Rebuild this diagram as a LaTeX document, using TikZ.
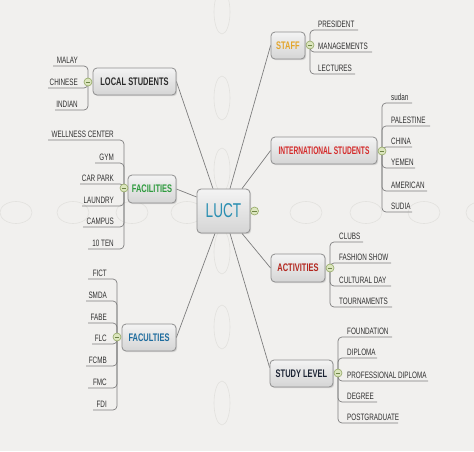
\documentclass[tikz,border=0pt]{standalone}
\usepackage{fontspec}
\newfontfamily\nar{Liberation Sans}[FakeStretch=0.68]
\newfontfamily\narx{Liberation Sans}[FakeStretch=0.6]
\usetikzlibrary{shadows,calc}
\definecolor{bg}{HTML}{F1F0EE}
\definecolor{boxtop}{HTML}{F3F3F3}
\definecolor{boxbot}{HTML}{D5D5D5}
\definecolor{boxline}{HTML}{8E8E8E}
\definecolor{linegray}{HTML}{7E7E7E}
\definecolor{leaftext}{HTML}{303030}
\definecolor{folddraw}{HTML}{93A865}
\definecolor{foldfill}{HTML}{DCE6BE}
\definecolor{foldmark}{HTML}{6E8446}
\definecolor{petalgray}{HTML}{E2E1DE}
\definecolor{cluct}{HTML}{2A8FB2}
\definecolor{cstaff}{HTML}{E3A52C}
\definecolor{cintl}{HTML}{D42A2A}
\definecolor{cfac}{HTML}{2E9B3E}
\definecolor{cact}{HTML}{B3261E}
\definecolor{cfacu}{HTML}{1E6C9E}
\definecolor{cdark}{HTML}{2B2B2B}
\definecolor{cstudy}{HTML}{1C2434}
\pgfdeclarelayer{bglayer}
\pgfsetlayers{bglayer,main}
\begin{document}
\begin{tikzpicture}[x=1pt,y=-1pt,
  topic/.style={draw=boxline, line width=0.8pt, rounded corners=4pt,
    top color=boxtop, bottom color=boxbot,
    drop shadow={opacity=0.25, shadow xshift=1.2pt, shadow yshift=-1.2pt},
    inner sep=0pt, font=\nar\bfseries\fontsize{11}{13}\selectfont},
  fold/.style={circle, draw=folddraw, fill=foldfill, line width=0.6pt,
    minimum size=8pt, inner sep=0pt,
    path picture={\draw[foldmark, line width=0.7pt]
      ([xshift=-2.2pt]path picture bounding box.center) --
      ([xshift=2.2pt]path picture bounding box.center);}},
  leaf/.style={inner sep=0pt, text=leaftext, font=\nar\fontsize{9.3}{11}\selectfont},
  leafR/.style={leaf, anchor=base west},
  leafL/.style={leaf, anchor=base east},
  branch/.style={draw=linegray, line width=0.7pt, rounded corners=4pt},
  spoke/.style={draw=linegray, line width=0.7pt},
  petal/.style={draw=petalgray, line width=0.6pt}
]
\useasboundingbox (0,0) rectangle (474,451);

% background and petals
\begin{pgfonlayer}{bglayer}
\fill[bg] (0,0) rectangle (474,451);
\foreach \cx in {16,73,132,187,306,366,424,482}
  \draw[petal] (\cx,212.5) ellipse [x radius=16, y radius=11];
\foreach \cy in {12,98,170,252,327,403}
  \draw[petal] (222,\cy) ellipse [x radius=8, y radius=22];
\end{pgfonlayer}

% central and topic nodes
\node[topic, minimum width=53pt, minimum height=44pt,
      font=\nar\fontsize{20}{22}\selectfont, text=cluct] (luct) at (223.5,211) {LUCT};
\node[topic, minimum width=83pt, minimum height=27pt, text=cdark] (local) at (134.5,81.5) {LOCAL STUDENTS};
\node[topic, minimum width=48pt, minimum height=28pt, text=cfac] (fac) at (152,189) {FACILITIES};
\node[topic, minimum width=54pt, minimum height=27pt, text=cfacu] (facu) at (149,337.5) {FACULTIES};
\node[topic, minimum width=34pt, minimum height=27pt, text=cstaff] (staff) at (288,45.5) {STAFF};
\node[topic, minimum width=106pt, minimum height=27pt, text=cintl,
      font=\narx\bfseries\fontsize{11}{13}\selectfont] (intl) at (324,150.5) {INTERNATIONAL STUDENTS};
\node[topic, minimum width=54pt, minimum height=28pt, text=cact] (act) at (298,268) {ACTIVITIES};
\node[topic, minimum width=63pt, minimum height=27pt, text=cstudy] (study) at (301.5,373.5) {STUDY LEVEL};

% fold markers
\node[fold] (fLuct) at (254.5,211) {};
\node[fold] (fLocal) at (88,82) {};
\node[fold] (fFac) at (124,188) {};
\node[fold] (fFacu) at (117,337) {};
\node[fold] (fStaff) at (310,45) {};
\node[fold] (fIntl) at (382,151) {};
\node[fold] (fAct) at (330,268) {};
\node[fold] (fStudy) at (338,373) {};

% spokes from centre
\begin{pgfonlayer}{bglayer}
\draw[spoke] ($(luct.north)+(-10.5,0)$) -- (local.east);
\draw[spoke] ($(luct.north)+(6.5,0)$) -- (staff.west);
\draw[spoke] ($(luct.north)+(18.5,0)$) -- (intl.west);
\draw[spoke] ($(luct.west)+(0,-14)$) -- (fac.east);
\draw[spoke] ($(luct.south)+(-8.5,0)$) -- (facu.east);
\draw[spoke] ($(luct.south)+(6.5,0)$) -- ($(study.west)+(0,-6)$);
\draw[spoke] ($(luct.south)+(18.5,0)$) -- (act.west);
\end{pgfonlayer}

% LOCAL STUDENTS leaves
\foreach \id/\txt/\yy/\xe in {la/MALAY/66/53, lb/CHINESE/88/48, lc/INDIAN/110/55}{
  \coordinate (u\id) at (\xe,\yy);
  \node[leafL] (t\id) at (78,\yy-2.5) {\txt};
  \begin{pgfonlayer}{bglayer}\draw[branch] (fLocal.center) |- (u\id);\end{pgfonlayer}
}
% FACILITIES leaves
\foreach \id/\txt/\yy/\xe in {fa/WELLNESS CENTER/140/48, fb/GYM/163/95, fc/CAR PARK/184/80,
    fd/LAUNDRY/206/82, fe/CAMPUS/227/83, ff/10 TEN/249/88}{
  \coordinate (u\id) at (\xe,\yy);
  \node[leafL] (t\id) at (114,\yy-2.5) {\txt};
  \begin{pgfonlayer}{bglayer}\draw[branch] (fFac.center) |- (u\id);\end{pgfonlayer}
}
% FACULTIES leaves
\foreach \id/\txt/\yy/\xe in {ga/FICT/279/88, gb/SMDA/301/86, gc/FABE/323/88, gd/FLC/344/92,
    ge/FCMB/366/86, gf/FMC/388/88, gg/FDI/410/93}{
  \coordinate (u\id) at (\xe,\yy);
  \node[leafL] (t\id) at (107,\yy-2.5) {\txt};
  \begin{pgfonlayer}{bglayer}\draw[branch] (fFacu.center) |- (u\id);\end{pgfonlayer}
}
% STAFF leaves
\foreach \id/\txt/\yy/\xe in {sa/PRESIDENT/30/358, sb/MANAGEMENTS/52/372, sc/LECTURES/74/355}{
  \coordinate (u\id) at (\xe,\yy);
  \node[leafR] (t\id) at (318,\yy-2.5) {\txt};
  \begin{pgfonlayer}{bglayer}\draw[branch] (fStaff.center) |- (u\id);\end{pgfonlayer}
}
% INTERNATIONAL STUDENTS leaves
\foreach \id/\txt/\yy/\xe in {ia/sudan/103/412, ib/PALESTINE/126/430, ic/CHINA/147/412,
    id/YEMEN/168/415, ie/AMERICAN/191/427, if/SUDIA/212/412}{
  \coordinate (u\id) at (\xe,\yy);
  \node[leafR] (t\id) at (391,\yy-2.5) {\txt};
  \begin{pgfonlayer}{bglayer}\draw[branch] (fIntl.center) |- (u\id);\end{pgfonlayer}
}
% ACTIVITIES leaves
\foreach \id/\txt/\yy/\xe in {aa/CLUBS/242/363, ab/FASHION SHOW/263/391,
    ac/CULTURAL DAY/286/391, ad/TOURNAMENTS/307/392}{
  \coordinate (u\id) at (\xe,\yy);
  \node[leafR] (t\id) at (339,\yy-2.5) {\txt};
  \begin{pgfonlayer}{bglayer}\draw[branch] (fAct.center) |- (u\id);\end{pgfonlayer}
}
% STUDY LEVEL leaves
\foreach \id/\txt/\yy/\xe in {da/FOUNDATION/337/392, db/DIPLOMA/358/377,
    dc/PROFESSIONAL DIPLOMA/381/428, dd/DEGREE/402/377, de/POSTGRADUATE/423/398}{
  \coordinate (u\id) at (\xe,\yy);
  \node[leafR] (t\id) at (347,\yy-2.5) {\txt};
  \begin{pgfonlayer}{bglayer}\draw[branch] (fStudy.center) |- (u\id);\end{pgfonlayer}
}
\end{tikzpicture}
\end{document}
